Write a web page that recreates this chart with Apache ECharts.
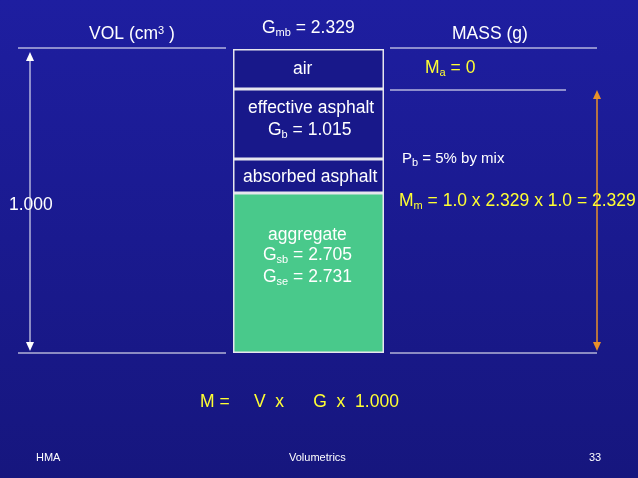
<!DOCTYPE html><html><head><meta charset="utf-8"><script src="https://cdn.jsdelivr.net/npm/echarts@6/dist/echarts.min.js"></script>
<style>html,body{margin:0;padding:0}#c{width:638px;height:478px}</style></head><body><div id="c"></div><script>
const categories=['column'];
const segments=['aggregate','absorbed asphalt','effective asphalt','air'];
const segmentValues=[160,34,70,40];
const segmentColors=['#49C98B','#18188a','#18188a','#18188a'];
const c=echarts.init(document.getElementById('c'));
const F='Liberation Sans, Arial, sans-serif';
const FS=17.5;
function txt(x,y,text,rich,color,size){return {type:'text',z:100,left:x,top:y,style:{text:text,fill:color||'#fff',font:(size||FS)+'px '+F,rich:rich||{}}};}
const sub=(c)=>({s:{fontSize:11,fill:c,fontFamily:F,verticalAlign:'bottom',padding:[9,0,0,0]}});
function line(x1,y1,x2,y2,col,w){return {type:'line',z:100,shape:{x1,y1,x2,y2},style:{stroke:col||'#fff',lineWidth:w||1}};}
function arrow(x,y,up,col){return {type:'polygon',z:100,shape:{points:up?[[x,y],[x-4,y+9],[x+4,y+9]]:[[x,y],[x-4,y-9],[x+4,y-9]]},style:{fill:col}};}
c.setOption({
 backgroundColor:{type:'linear',x:0,y:0,x2:0,y2:1,colorStops:[{offset:0,color:'#1e1ea0'},{offset:1,color:'#16167e'}]},
 grid:{left:233,width:151,top:49,bottom:125},
 xAxis:{type:'category',data:categories,show:false},
 yAxis:{type:'value',min:0,max:304,show:false},
 series:segments.map((n,i)=>({name:n,type:'bar',stack:'a',barWidth:'100%',data:[segmentValues[i]],itemStyle:{color:segmentColors[i],borderColor:'#e6e6ee',borderWidth:1.5},animation:false})),
 graphic:[
  line(18,48,226,48),line(18,353,226,353),line(390,48,597,48),line(390,353,597,353),line(390,90,566,90),
  line(30,60,30,343,'#fff',1),arrow(30,52,true,'#fff'),arrow(30,351,false,'#fff'),
  line(597,98,597,343,'#E8902A',1.5),arrow(597,90,true,'#E8902A'),arrow(597,351,false,'#E8902A'),
  txt(89,25,'VOL (cm{s|3} )',{s:{fontSize:11,fill:'#fff',fontFamily:F,verticalAlign:'top',padding:[0,0,8,0]}}),
  txt(262,19,'G{s|mb} = 2.329',sub('#fff')),
  txt(452,25,'MASS (g)'),
  txt(293,60,'air'),
  txt(425,59,'M{s|a} = 0',sub('#FFFF33'),'#FFFF33'),
  txt(248,99,'effective asphalt'),
  txt(268,121,'G{s|b} = 1.015',sub('#fff')),
  txt(402,151,'P{s|b} = 5% by mix',sub('#fff'),'#fff',15),
  txt(243,168,'absorbed asphalt'),
  txt(9,196,'1.000'),
  txt(399,192,'M{s|m} = 1.0 x 2.329 x 1.0 = 2.329',sub('#FFFF33'),'#FFFF33'),
  txt(268,226,'aggregate'),
  txt(263,246,'G{s|sb} = 2.705',sub('#fff')),
  txt(263,268,'G{s|se} = 2.731',sub('#fff')),
  txt(200,393,'M =     V  x      G  x  1.000',null,'#FFFF33'),
  txt(36,452,'HMA',null,'#fff',11),txt(289,452,'Volumetrics',null,'#fff',11),txt(589,452,'33',null,'#fff',11)
 ]
});
</script></body></html>
